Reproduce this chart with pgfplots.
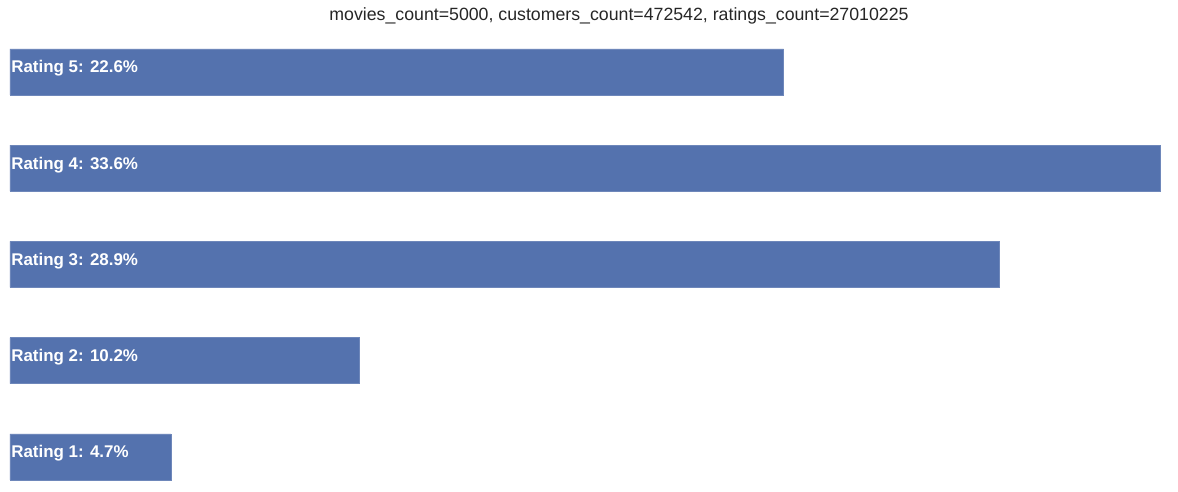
\documentclass[border=0pt]{standalone}
\usepackage{fontspec}
\setmainfont{Liberation Sans}
\usepackage{pgfplots}
\pgfplotsset{compat=1.18}
\definecolor{barblue}{RGB}{84,114,174}
\begin{document}
\begin{tikzpicture}[
    lbl/.style={anchor=west, inner sep=0pt, text=white, font=\fontsize{12.7}{14}\bfseries\selectfont, yshift=2.5pt, xshift=0.8pt},
]
\path[use as bounding box] (0,0) rectangle (883.5pt,369pt);
\begin{axis}[
    at={(0,0)}, anchor=south west,
    scale only axis,
    width=883.5pt, height=350.25pt,
    xmin=-0.292, xmax=34.126,
    ymin=0.636, ymax=5.488,
    hide axis,
    clip=false,
    xbar, bar width=0.478,
    title={movies\_count=5000, customers\_count=472542, ratings\_count=27010225},
    title style={at={(0.5,1)}, anchor=center, yshift=0.75pt, xshift=22.5pt, font=\fontsize{13.3}{15}\selectfont, text=black!85, inner sep=0pt},
]
\addplot[fill=barblue, draw=barblue!85!white, line width=0.4pt]
    coordinates {(4.7,1) (10.2,2) (28.9,3) (33.6,4) (22.6,5)};
\node[lbl] at (axis cs:0,1) {Rating 1: 4.7\%};
\node[lbl] at (axis cs:0,2) {Rating 2: 10.2\%};
\node[lbl] at (axis cs:0,3) {Rating 3: 28.9\%};
\node[lbl] at (axis cs:0,4) {Rating 4: 33.6\%};
\node[lbl] at (axis cs:0,5) {Rating 5: 22.6\%};
\end{axis}
\end{tikzpicture}
\end{document}
